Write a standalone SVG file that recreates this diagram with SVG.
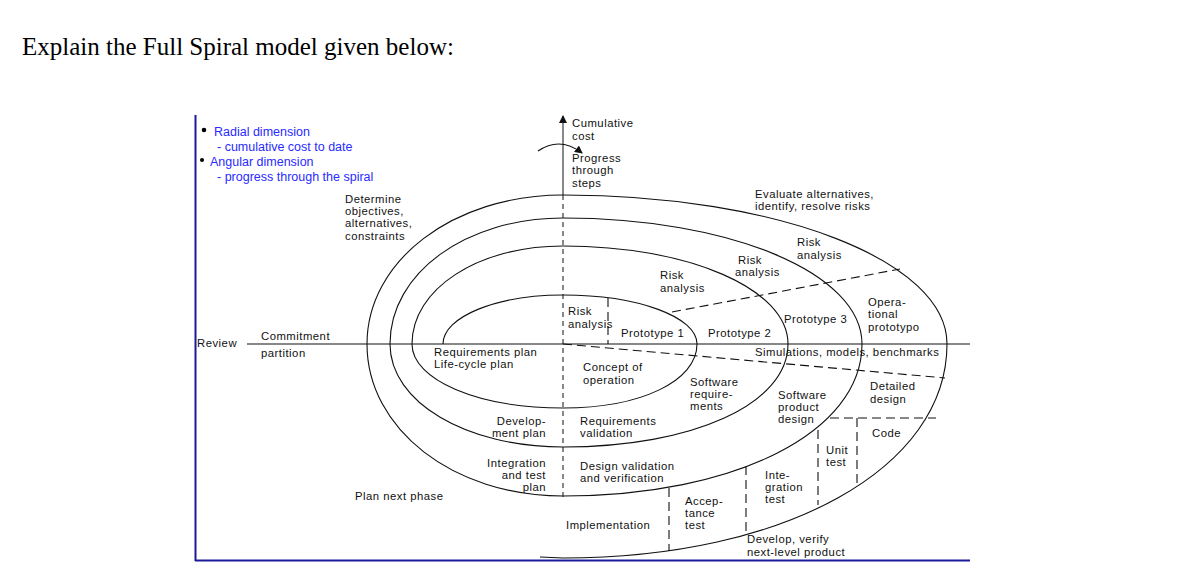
<svg xmlns="http://www.w3.org/2000/svg" width="1183" height="583" viewBox="0 0 1183 583">
<defs>
<style>
.t{font-family:"Liberation Sans",Arial,sans-serif;font-size:11.3px;fill:#111;letter-spacing:0.5px}
.b{font-family:"Liberation Sans",Arial,sans-serif;font-size:12.5px;fill:#2a2aff}
.s{fill:none;stroke:#111;stroke-width:1.1}
.d{fill:none;stroke:#111;stroke-width:1.1;stroke-dasharray:9 5}
.ax{fill:none;stroke:#111;stroke-width:1;stroke-dasharray:5 4}
</style>
<marker id="ah" markerWidth="8" markerHeight="8" refX="7" refY="4" orient="auto" markerUnits="userSpaceOnUse">
<path d="M0,0 L8,4 L0,8 z" fill="#111"/>
</marker>
</defs>
<rect width="1183" height="583" fill="#fff"/>
<text x="22" y="55" font-family="'Liberation Serif','Times New Roman',serif" font-size="25" fill="#000">Explain the Full Spiral model given below:</text>
<g id="frame">
<line x1="195.5" y1="115" x2="195.5" y2="561" stroke="#1a1a9a" stroke-width="2"/>
<line x1="195" y1="560.5" x2="970" y2="560.5" stroke="#1a1a9a" stroke-width="2"/>
</g>
<g id="legend">
<circle cx="204" cy="130" r="2.3" fill="#000"/>
<text class="b" x="214" y="136">Radial dimension</text>
<text class="b" x="217" y="151">- cumulative cost to date</text>
<circle cx="202" cy="160" r="2" fill="#000"/>
<text class="b" x="210" y="166">Angular dimension</text>
<text class="b" x="217" y="181">- progress through the spiral</text>
</g>
<g id="connectors">
<line x1="247" y1="344" x2="970" y2="344" stroke="#111" stroke-width="1.1"/>
<line x1="563" y1="195" x2="563" y2="116" stroke="#111" stroke-width="1" marker-end="url(#ah)"/>
<line class="ax" x1="563" y1="195" x2="563" y2="500"/>
<path class="s" d="M538,151 Q560,136 582,153" marker-end="url(#ah)"/>
<path class="s" d="M443,344 C443,317 496,295 563,295 C638,295 697,317 697,344 C697,381 641,408 563,408 C478,408 412,380 412,344"/>
<path class="s" d="M412,344 C412,289 478,246 563,246 C689,246 788,289 788,344 C788,404 693,447 563,447 C466,447 390,402 390,344"/>
<path class="s" d="M390,344 C390,273 466,218 563,218 C730,218 862,273 862,344 C862,432 736,496 563,496 C453,496 367,429 367,344"/>
<path class="s" d="M367,344 C367,261 453,195 563,195 C778,195 947,261 947,344 C947,468 786,558 563,558 L540,557"/>
<line class="d" x1="608" y1="298" x2="608" y2="344"/>
<line class="d" x1="672" y1="312" x2="900" y2="269"/>
<line class="d" x1="563" y1="344" x2="945" y2="378"/>
<line class="d" x1="830" y1="418" x2="936" y2="418"/>
<line class="d" x1="818" y1="430" x2="818" y2="505"/>
<line class="d" x1="857" y1="418" x2="857" y2="484"/>
<line class="d" x1="746" y1="466" x2="746" y2="536"/>
<line class="d" x1="669" y1="488" x2="669" y2="551"/>
</g>
<g id="labels">
<text class="t" x="572" y="127">Cumulative</text>
<text class="t" x="572" y="140">cost</text>
<text class="t" x="572" y="162">Progress</text>
<text class="t" x="572" y="174">through</text>
<text class="t" x="572" y="187">steps</text>
<text class="t" x="345" y="203">Determine</text>
<text class="t" x="345" y="215">objectives,</text>
<text class="t" x="345" y="227">alternatives,</text>
<text class="t" x="345" y="240">constraints</text>
<text class="t" x="755" y="198">Evaluate alternatives,</text>
<text class="t" x="755" y="210">identify, resolve risks</text>
<text class="t" x="797" y="246">Risk</text>
<text class="t" x="797" y="259">analysis</text>
<text class="t" x="738" y="264">Risk</text>
<text class="t" x="735" y="276">analysis</text>
<text class="t" x="660" y="279">Risk</text>
<text class="t" x="660" y="292">analysis</text>
<text class="t" x="568" y="315">Risk</text>
<text class="t" x="568" y="328">analysis</text>
<text class="t" x="621" y="337">Prototype 1</text>
<text class="t" x="708" y="337">Prototype 2</text>
<text class="t" x="784" y="323">Prototype 3</text>
<text class="t" x="868" y="306">Opera-</text>
<text class="t" x="868" y="318">tional</text>
<text class="t" x="868" y="331">prototypo</text>
<text class="t" x="197" y="347">Review</text>
<text class="t" x="261" y="340">Commitment</text>
<text class="t" x="261" y="357">partition</text>
<text class="t" x="755" y="356">Simulations, models, benchmarks</text>
<text class="t" x="434" y="356">Requirements plan</text>
<text class="t" x="434" y="368">Life-cycle plan</text>
<text class="t" x="583" y="371">Concept of</text>
<text class="t" x="583" y="384">operation</text>
<text class="t" x="690" y="386">Software</text>
<text class="t" x="690" y="398">require-</text>
<text class="t" x="690" y="410">ments</text>
<text class="t" x="778" y="399">Software</text>
<text class="t" x="778" y="411">product</text>
<text class="t" x="778" y="423">design</text>
<text class="t" x="870" y="390">Detailed</text>
<text class="t" x="870" y="403">design</text>
<text class="t" x="872" y="437">Code</text>
<text class="t" x="826" y="454">Unit</text>
<text class="t" x="826" y="466">test</text>
<text class="t" x="546" y="425" text-anchor="end">Develop-</text>
<text class="t" x="546" y="437" text-anchor="end">ment plan</text>
<text class="t" x="580" y="425">Requirements</text>
<text class="t" x="580" y="437">validation</text>
<text class="t" x="546" y="467" text-anchor="end">Integration</text>
<text class="t" x="546" y="479" text-anchor="end">and test</text>
<text class="t" x="546" y="491" text-anchor="end">plan</text>
<text class="t" x="580" y="470">Design validation</text>
<text class="t" x="580" y="482">and verification</text>
<text class="t" x="765" y="479">Inte-</text>
<text class="t" x="765" y="491">gration</text>
<text class="t" x="765" y="503">test</text>
<text class="t" x="355" y="500">Plan next phase</text>
<text class="t" x="685" y="505">Accep-</text>
<text class="t" x="685" y="517">tance</text>
<text class="t" x="685" y="529">test</text>
<text class="t" x="566" y="529">Implementation</text>
<text class="t" x="747" y="543">Develop, verify</text>
<text class="t" x="747" y="556">next-level product</text>
</g>
</svg>
